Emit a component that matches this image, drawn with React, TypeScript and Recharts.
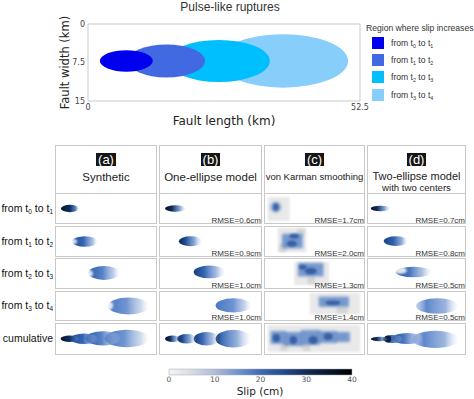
import React from 'react';
import { ComposedChart, XAxis, YAxis, ReferenceArea } from 'recharts';

// ---------- data ----------
const LENGTH_DOMAIN: [number, number] = [0, 52.5];
const WIDTH_DOMAIN: [number, number] = [0, 15];
const xTicks = [0, 52.5];
const yTicks = [0, 7.5, 15];

// Top panel: region where slip increases (km)
const stageFrom = ['0', '1', '2', '3'];
const stageTo = ['1', '2', '3', '4'];
const stageColors = ['#0000EE', '#4169E1', '#00BFFF', '#87CEFA'];
const stageX1 = [2.3, 7.7, 15.4, 25.1];
const stageX2 = [12.5, 22.6, 35.1, 50.2];
const stageY1 = [5.1, 4.0, 3.1, 2.0];
const stageY2 = [9.3, 10.4, 11.3, 12.4];

const columnTags = ['(a)', '(b)', '(c)', '(d)'];
const columnTitles = ['Synthetic', 'One-ellipse model', 'von Karman smoothing', 'Two-ellipse model'];
const rowNames = ['from t0 to t1', 'from t1 to t2', 'from t2 to t3', 'from t3 to t4', 'cumulative'];

const rmseOneEllipse = [0.6, 0.9, 1.0, 1.0];
const rmseVonKarman = [1.7, 2.0, 1.3, 1.4];
const rmseTwoEllipse = [0.7, 0.8, 0.5, 0.5];

// slip patches: [shape, x1, x2, y1, y2, fillKey] in km
type Patch = [string, number, number, number, number, string];

const synthetic: Patch[][] = [
  [['e', 2.6, 12.0, 5.6, 9.4, 'syn1']],
  [['e', 8.5, 21.8, 4.8, 10.2, 'syn2'], ['e', 2.6, 11.2, 5.6, 9.4, 'notch']],
  [['e', 17.0, 33.5, 3.6, 10.8, 'syn3'], ['e', 8.5, 19.5, 4.8, 10.2, 'notch']],
  [['e', 27.3, 49.0, 3.0, 12.0, 'syn4'], ['e', 17.0, 30.0, 3.6, 10.8, 'notch']],
  [
    ['e', 25.5, 49.0, 2.9, 11.6, 'syn4'],
    ['e', 15.5, 34.0, 3.6, 10.8, 'syn3'],
    ['e', 7.7, 22.0, 4.8, 10.0, 'syn2'],
    ['e', 2.4, 12.0, 5.8, 9.0, 'syn1'],
  ],
];

const oneEllipse: Patch[][] = [
  [['e', 2.6, 13.4, 5.8, 9.2, 'one1']],
  [['e', 9.8, 22.0, 4.8, 10.0, 'one2']],
  [['e', 17.5, 34.0, 3.4, 10.0, 'one3']],
  [['e', 28.9, 47.5, 3.4, 11.0, 'one4']],
  [
    ['e', 28.9, 47.5, 2.9, 11.8, 'oneC4'],
    ['e', 17.5, 31.0, 4.0, 10.8, 'one3'],
    ['e', 8.8, 19.0, 5.0, 9.8, 'one2'],
    ['e', 2.6, 10.5, 5.8, 9.0, 'one1'],
  ],
];

const vonKarman: Patch[][] = [
  [['r', 1.5, 13.0, 1.5, 14.0, 'vkG'], ['e', 3.0, 8.5, 4.0, 9.5, 'vkB'], ['e', 4.5, 7.0, 5.0, 8.5, 'vkD']],
  [
    ['r', 6.7, 22.0, 0.5, 13.0, 'vkG'], ['r', 7.5, 11.5, 8.5, 13.0, 'vkG2'], ['r', 17.0, 21.0, 1.0, 4.5, 'vkG2'],
    ['r', 9.0, 20.0, 3.5, 11.0, 'vkB'], ['e', 11.5, 17.0, 7.0, 10.2, 'vkD'], ['e', 13.0, 18.0, 3.5, 6.0, 'vkD'],
  ],
  [
    ['r', 15.5, 34.0, 1.5, 13.5, 'vkG'], ['r', 22.5, 26.5, 9.0, 13.0, 'vkG2'],
    ['r', 17.5, 31.0, 2.0, 9.0, 'vkB'], ['e', 21.0, 27.5, 4.5, 8.0, 'vkD'], ['e', 18.0, 22.0, 3.0, 5.5, 'vkD'],
  ],
  [
    ['r', 23.7, 50.5, 0.5, 12.0, 'vkG'], ['r', 38.0, 44.0, 8.0, 11.5, 'vkG2'],
    ['r', 28.5, 44.5, 2.5, 8.0, 'vkB'], ['e', 32.0, 40.0, 4.5, 7.0, 'vkD'],
  ],
  [
    ['r', 1.5, 50.5, 0.5, 14.0, 'vkG'], ['r', 8.0, 12.0, 10.0, 13.5, 'vkG2'], ['r', 20.0, 24.0, 9.5, 13.5, 'vkG2'],
    ['r', 3.0, 11.0, 3.5, 10.0, 'vkB'], ['r', 10.0, 20.0, 4.0, 11.0, 'vkB'], ['r', 19.0, 29.0, 3.0, 10.5, 'vkB'],
    ['r', 28.0, 38.0, 3.5, 9.5, 'vkB'], ['r', 37.0, 45.0, 4.0, 9.0, 'vkB'],
    ['e', 4.0, 8.0, 5.0, 9.0, 'vkD'], ['e', 13.0, 17.0, 6.0, 10.0, 'vkD'],
    ['e', 23.0, 28.0, 6.0, 10.0, 'vkD'], ['e', 31.0, 36.0, 4.5, 8.0, 'vkD'],
  ],
];

const twoEllipse: Patch[][] = [
  [['e', 1.5, 12.0, 6.1, 8.9, 'one1']],
  [['e', 8.5, 21.5, 4.8, 9.8, 'd2']],
  [['e', 15.0, 34.5, 4.0, 9.5, 'd3'], ['e', 13.5, 21.0, 4.0, 7.8, 'notch']],
  [['e', 26.0, 49.0, 3.4, 11.6, 'd4']],
  [
    ['e', 24.0, 49.0, 3.4, 12.0, 'd4'],
    ['e', 13.0, 30.0, 4.5, 10.0, 'd3'],
    ['e', 8.0, 19.0, 5.5, 9.5, 'd2'],
    ['e', 9.0, 12.5, 5.8, 9.2, 'vkDark'],
    ['e', 1.5, 11.0, 6.4, 8.6, 'one1'],
  ],
];

const slipTicks = [0, 10, 20, 30, 40];
const slipDomain: [number, number] = [0, 40];
const slipStops = [0, 5, 10, 15, 20, 25, 30, 35, 40];
const slipColors = ['#f3f3f3', '#d6dbe6', '#aebcd9', '#7394cd', '#3d6ab3', '#234a8b', '#132b56', '#08162f', '#000000'];

// ---------- styles ----------
const FONT_SANS = '"Liberation Sans", Arial, sans-serif';
const FONT_DJ = '"DejaVu Sans", sans-serif';

type G = [number, string, number][];
const gradients: Record<string, G> = {
  syn1: [[0, '#06122a', 1], [0.5, '#12305e', 1], [0.8, '#3563ad', 0.85], [1, '#7d9ad2', 0.1]],
  syn2: [[0, '#1d4b94', 1], [0.45, '#3466b3', 1], [0.8, '#6f93cf', 0.6], [1, '#b9c8e6', 0]],
  syn3: [[0, '#2e5eab', 1], [0.45, '#4d7bc3', 0.95], [0.8, '#89a7da', 0.55], [1, '#c4d0ea', 0]],
  syn4: [[0, '#4b78c2', 1], [0.45, '#6089cb', 0.9], [0.8, '#9ab3df', 0.5], [1, '#d0daee', 0]],
  one1: [[0, '#040c1e', 1], [0.35, '#12305e', 1], [0.7, '#4a78c0', 0.7], [1, '#9db3de', 0]],
  one2: [[0, '#0b2246', 1], [0.3, '#24529a', 1], [0.65, '#5b86c8', 0.75], [1, '#c0cde8', 0]],
  one3: [[0, '#163c78', 1], [0.35, '#3a69b6', 1], [0.7, '#7a9bd3', 0.7], [1, '#c8d4ec', 0]],
  one4: [[0, '#4a78c2', 1], [0.5, '#5f88cc', 0.9], [0.8, '#98b2de', 0.6], [1, '#d2dcef', 0]],
  oneC4: [[0, '#0c1f40', 1], [0.15, '#3a68b4', 1], [0.6, '#7096d0', 0.75], [1, '#c8d4ec', 0]],
  d2: [[0, '#1a4488', 1], [0.4, '#2f5eaa', 1], [0.75, '#5f88c8', 0.7], [1, '#b8c8e6', 0]],
  d3: [[0, '#1e4a92', 1], [0.4, '#4272bc', 0.95], [0.75, '#7e9dd4', 0.6], [1, '#c4d0ea', 0]],
  d4: [[0, '#8aa6d8', 0.5], [0.25, '#5f88cc', 1], [0.7, '#7c9cd4', 0.75], [1, '#cdd8ee', 0]],
};

const fills: Record<string, { fill: string; opacity: number; blur: string }> = {
  notch: { fill: '#ffffff', opacity: 0.85, blur: 'blurM' },
  vkG: { fill: '#e0e0e0', opacity: 0.7, blur: 'blurM' },
  vkG2: { fill: '#c8c8c8', opacity: 0.6, blur: 'blurM' },
  vkB: { fill: '#5a84c6', opacity: 0.8, blur: 'blurL' },
  vkD: { fill: '#24529a', opacity: 0.8, blur: 'blurM' },
  vkDark: { fill: '#0a1a38', opacity: 0.9, blur: 'blurS' },
};
const fillFor = (key: string) =>
  gradients[key] ? { fill: `url(#g_${key})`, opacity: 1, blur: 'blurS' } : fills[key];

const Defs = () => (
  <svg width={0} height={0} style={{ position: 'absolute' }}>
    <defs>
      {Object.entries(gradients).map(([k, stops]) => (
        <linearGradient key={k} id={`g_${k}`} x1="0" y1="0" x2="1" y2="0">
          {stops.map(([o, c, a], i) => (
            <stop key={i} offset={o} stopColor={c} stopOpacity={a} />
          ))}
        </linearGradient>
      ))}
      <linearGradient id="slipCmap" x1="0" y1="0" x2="1" y2="0">
        {slipStops.map((s, i) => (
          <stop key={i} offset={(s - slipDomain[0]) / (slipDomain[1] - slipDomain[0])} stopColor={slipColors[i]} />
        ))}
      </linearGradient>
      <filter id="blurS" x="-30%" y="-60%" width="160%" height="220%">
        <feGaussianBlur stdDeviation="0.6" />
      </filter>
      <filter id="blurM" x="-30%" y="-60%" width="160%" height="220%">
        <feGaussianBlur stdDeviation="1" />
      </filter>
      <filter id="blurL" x="-30%" y="-60%" width="160%" height="220%">
        <feGaussianBlur stdDeviation="1.4" />
      </filter>
    </defs>
  </svg>
);

const norm = (p: any) => {
  const w = Math.abs(p.width);
  const h = Math.abs(p.height);
  const x = Math.min(p.x, p.x + p.width);
  const y = Math.min(p.y, p.y + p.height);
  return { x, y, w, h };
};

const ellipseShape = (fill: string, opacity = 1, filter?: string) => (p: any) => {
  const { x, y, w, h } = norm(p);
  return (
    <ellipse cx={x + w / 2} cy={y + h / 2} rx={w / 2} ry={h / 2} fill={fill} fillOpacity={opacity}
      filter={filter ? `url(#${filter})` : undefined} />
  );
};
const rectShape = (fill: string, opacity = 1, filter?: string) => (p: any) => {
  const { x, y, w, h } = norm(p);
  return <rect x={x} y={y} width={w} height={h} fill={fill} fillOpacity={opacity}
    filter={filter ? `url(#${filter})` : undefined} />;
};

// ---------- layout ----------
const colLeft = [55, 159, 264, 367];
const colWidth = [102, 103, 101, 99];
const rowTop = [193, 226, 258, 291, 323];
const rowHeight = [31, 31, 31, 30, 32];
const BORDER = '1px solid #c9c9c9';

const Sub = ({ children }: { children: React.ReactNode }) => (
  <span style={{ fontSize: '0.62em', position: 'relative', top: '0.35em' }}>{children}</span>
);

const StageText = ({ a, b }: { a: string; b: string }) => (
  <span>from t<Sub>{a}</Sub> to t<Sub>{b}</Sub></span>
);

const Panel = ({ left, top, width, height, patches, rmse }: any) => (
  <div style={{ position: 'absolute', left, top, width, height, border: BORDER, boxSizing: 'border-box' }}>
    <ComposedChart width={width - 2} height={height - 2} margin={{ top: 0, right: 0, bottom: 0, left: 0 }}>
      <XAxis type="number" dataKey="x" domain={LENGTH_DOMAIN} hide allowDataOverflow height={0} />
      <YAxis type="number" dataKey="y" domain={WIDTH_DOMAIN} reversed hide allowDataOverflow width={0} />
      {patches.map((pt: Patch, i: number) => {
        const f = fillFor(pt[5]);
        const shape = pt[0] === 'e' ? ellipseShape(f.fill, f.opacity, f.blur) : rectShape(f.fill, f.opacity, f.blur);
        return (
          <ReferenceArea key={i} x1={pt[1]} x2={pt[2]} y1={pt[3]} y2={pt[4]} ifOverflow="visible" shape={shape} />
        );
      })}
    </ComposedChart>
    {rmse !== undefined && (
      <div style={{
        position: 'absolute', right: 0, bottom: -2, fontFamily: FONT_SANS, fontSize: 8, color: '#333',
        lineHeight: '9px', whiteSpace: 'nowrap',
      }}>{`RMSE=${rmse.toFixed(1)}cm`}</div>
    )}
  </div>
);

export default function App() {
  const columns = [synthetic, oneEllipse, vonKarman, twoEllipse];
  const rmses = [null, rmseOneEllipse, rmseVonKarman, rmseTwoEllipse];
  const titleSizes = [11.5, 11.5, 9.5, 11];
  return (
    <div style={{ position: 'absolute', left: 0, top: 0, width: 474, height: 399, background: '#fff', overflow: 'hidden' }}>
      <Defs />
      {/* title */}
      <div style={{ position: 'absolute', left: 130, width: 200, top: 0, textAlign: 'center', fontFamily: FONT_SANS, fontSize: 12, color: '#333', lineHeight: '15px' }}>
        Pulse-like ruptures
      </div>
      {/* top chart */}
      <div style={{ position: 'absolute', left: 0, top: 0 }}>
        <ComposedChart width={474} height={135} margin={{ top: 24, right: 114, bottom: 4, left: 58 }}>
          <XAxis type="number" dataKey="x" domain={LENGTH_DOMAIN} ticks={xTicks} interval={0} allowDataOverflow
            height={30} tickLine={false} axisLine={false} tickSize={0} tickMargin={3}
            tick={{ fontSize: 8, fill: '#444', fontFamily: FONT_DJ }} />
          <YAxis type="number" dataKey="y" domain={WIDTH_DOMAIN} ticks={yTicks} interval={0} reversed allowDataOverflow
            width={30} tickLine={false} axisLine={false} tickSize={0} tickMargin={3}
            tick={{ fontSize: 8, fill: '#444', fontFamily: FONT_DJ }} />
          <ReferenceArea x1={0} x2={52.5} y1={0} y2={15} fill="#fff" fillOpacity={0} stroke="#c9c9c9" strokeWidth={1} ifOverflow="visible" />
          {[3, 2, 1, 0].map((i) => (
            <ReferenceArea key={i} x1={stageX1[i]} x2={stageX2[i]} y1={stageY1[i]} y2={stageY2[i]}
              ifOverflow="visible" shape={ellipseShape(stageColors[i])} />
          ))}
        </ComposedChart>
      </div>
      {/* axis labels */}
      <div style={{ position: 'absolute', left: 15, top: 55, width: 100, height: 15, textAlign: 'center', fontFamily: FONT_DJ, fontSize: 11.5, color: '#222', lineHeight: '15px', transform: 'rotate(-90deg)', transformOrigin: '50px 7.5px', whiteSpace: 'nowrap' }}>
        Fault width (km)
      </div>
      <div style={{ position: 'absolute', left: 144, top: 113, width: 160, textAlign: 'center', fontFamily: FONT_DJ, fontSize: 12, color: '#222', lineHeight: '16px' }}>
        Fault length (km)
      </div>
      {/* legend */}
      <div style={{ position: 'absolute', left: 366, top: 23, fontFamily: FONT_SANS, fontSize: 8.6, color: '#333', lineHeight: '11px', whiteSpace: 'nowrap' }}>
        Region where slip increases
      </div>
      {stageColors.map((c, i) => {
        const tops = [37, 54, 71, 89];
        return (
          <React.Fragment key={i}>
            <div style={{ position: 'absolute', left: 372, top: tops[i], width: 12, height: 12, background: c }} />
            <div style={{ position: 'absolute', left: 391, top: tops[i] + 1, fontFamily: FONT_SANS, fontSize: 8.6, color: '#333', lineHeight: '10px', whiteSpace: 'nowrap' }}>
              <StageText a={stageFrom[i]} b={stageTo[i]} />
            </div>
          </React.Fragment>
        );
      })}
      {/* headers */}
      {columnTags.map((tag, c) => (
        <div key={tag} style={{ position: 'absolute', left: colLeft[c], top: 145, width: colWidth[c], height: 49, border: BORDER, boxSizing: 'border-box' }}>
          <div style={{ position: 'absolute', left: 0, right: 0, top: 4, textAlign: 'center' }}>
            <span style={{ background: '#151515', color: '#fff', fontFamily: FONT_SANS, fontSize: 13, lineHeight: '13px', padding: '0 2px', display: 'inline-block', height: 13 }}>{tag}</span>
          </div>
          <div style={{ position: 'absolute', left: -4, right: -4, top: c === 3 ? 23 : 24, textAlign: 'center', fontFamily: FONT_SANS, fontSize: titleSizes[c], color: '#222', lineHeight: '14px', whiteSpace: 'nowrap' }}>
            {columnTitles[c]}
          </div>
          {c === 3 && (
            <div style={{ position: 'absolute', left: 0, right: 0, top: 36, textAlign: 'center', fontFamily: FONT_SANS, fontSize: 9.6, color: '#222', lineHeight: '11px', whiteSpace: 'nowrap' }}>
              with two centers
            </div>
          )}
        </div>
      ))}
      {/* row labels */}
      {rowNames.map((name, r) => (
        <div key={name} style={{ position: 'absolute', left: -10, width: 63, top: rowTop[r] + rowHeight[r] / 2 - 8, textAlign: 'right', fontFamily: FONT_SANS, fontSize: 10.5, color: '#111', lineHeight: '15px', whiteSpace: 'nowrap' }}>
          {r < 4 ? <StageText a={stageFrom[r]} b={stageTo[r]} /> : name}
        </div>
      ))}
      {/* panels */}
      {columns.map((col, c) =>
        col.map((patches, r) => (
          <Panel key={`${c}-${r}`} left={colLeft[c]} top={rowTop[r]} width={colWidth[c]} height={rowHeight[r]}
            patches={patches} rmse={rmses[c] && r < 4 ? (rmses[c] as number[])[r] : undefined} />
        ))
      )}
      {/* colorbar */}
      <div style={{ position: 'absolute', left: 150, top: 360 }}>
        <ComposedChart width={220} height={32} margin={{ top: 9, right: 18, bottom: 0, left: 19 }}>
          <XAxis type="number" dataKey="x" domain={slipDomain} ticks={slipTicks} interval={0} allowDataOverflow
            height={17} tickLine={false} axisLine={false} tickSize={0} tickMargin={2}
            tick={{ fontSize: 7.5, fill: '#555', fontFamily: FONT_DJ }} />
          <YAxis type="number" dataKey="y" domain={[0, 1]} hide width={0} allowDataOverflow />
          <ReferenceArea x1={0} x2={40} y1={0} y2={1} fill="url(#slipCmap)" fillOpacity={1} stroke="#aaa" strokeWidth={0.5} ifOverflow="visible" />
        </ComposedChart>
      </div>
      <div style={{ position: 'absolute', left: 200, width: 120, top: 384, textAlign: 'center', fontFamily: FONT_DJ, fontSize: 10.5, color: '#222', lineHeight: '14px' }}>
        Slip (cm)
      </div>
    </div>
  );
}
